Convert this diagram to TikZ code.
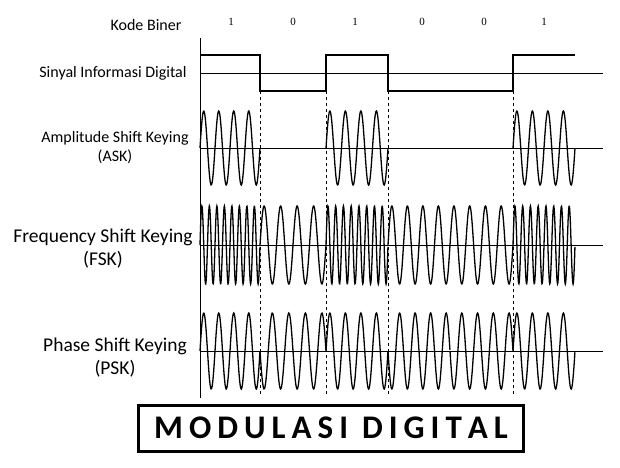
\documentclass[tikz,border=0pt]{standalone}
\usepackage{fontspec}
\setmainfont{Carlito}
\newfontfamily\digfont{Liberation Serif}
\begin{document}
\begin{tikzpicture}[x=1pt,y=-1pt,
  wave/.style={line width=1.3pt},
  ax/.style={line width=0.6pt},
  dashln/.style={dashed,line width=0.6pt},
  lbl/.style={font=\fontsize{16}{19}\selectfont,align=center},
  lblb/.style={font=\fontsize{19.5}{23}\selectfont,align=center},
  bit/.style={font=\fontsize{11}{12}\selectfont\digfont}]
\useasboundingbox (0,0) rectangle (620,467);
\fill[white] (0,0) rectangle (620,467);
% axes
\draw[ax] (200,38) -- (200,398);
\draw[ax] (200,73) -- (603,73);
\draw[ax] (200,148) -- (603,148);
\draw[ax] (200,245) -- (603,245);
\draw[ax] (200,351) -- (603,351);
% dashed bit boundaries
\foreach \x in {260,326,388,513} \draw[dashln] (\x,91) -- (\x,395);
% digital signal
\draw[wave] (200,55) -- (260,55) -- (260,91) -- (326,91) -- (326,55) -- (388,55) -- (388,91) -- (513,91) -- (513,55) -- (575,55);
% ASK
\foreach \a/\b in {200/260,326/388,513/575}
  \draw[wave] plot[domain=0:1,samples=120] ({\a+(\b-\a)*\x},{148-37*sin(4*360*\x)});
% FSK
\foreach \a/\b/\n in {200/260/8,260/326/4,326/388/8,388/450/4,450/513/4,513/575/8}
  \draw[wave] plot[domain=0:1,samples=200] ({\a+(\b-\a)*\x},{245-39*sin(\n*360*\x)});
% PSK
\foreach \a/\b/\s in {200/260/1,260/326/-1,326/388/1,388/450/-1,450/513/-1,513/575/1}
  \draw[wave] plot[domain=0:1,samples=120] ({\a+(\b-\a)*\x},{351-\s*38*sin(4*360*\x)});
% labels
\node[lbl] (kb) at (146,25) {Kode Biner};
\foreach \x/\t [count=\i] in {231/1,293/0,355/1,422/0,484/0,544/1}
  \node[bit] (b\i) at (\x,22) {\t};
\node[lbl] (sid) at (113,73) {Sinyal Informasi Digital};
\node[lbl] (ask) at (115,148) {Amplitude Shift Keying\\(ASK)};
\node[lblb] (fsk) at (103,249) {Frequency Shift Keying\\(FSK)};
\node[lblb] (psk) at (115,358) {Phase Shift Keying\\(PSK)};
\node[draw,line width=3pt,minimum width=385pt,minimum height=46pt,
  font=\fontsize{33}{36}\selectfont\bfseries] (title) at (331,428)
  {M\hspace{6pt}O\hspace{6pt}D\hspace{6pt}U\hspace{6pt}L\hspace{6pt}A\hspace{6pt}S\hspace{6pt}I\hspace{14pt}D\hspace{6pt}I\hspace{6pt}G\hspace{6pt}I\hspace{6pt}T\hspace{6pt}A\hspace{6pt}L};
\end{tikzpicture}
\end{document}
